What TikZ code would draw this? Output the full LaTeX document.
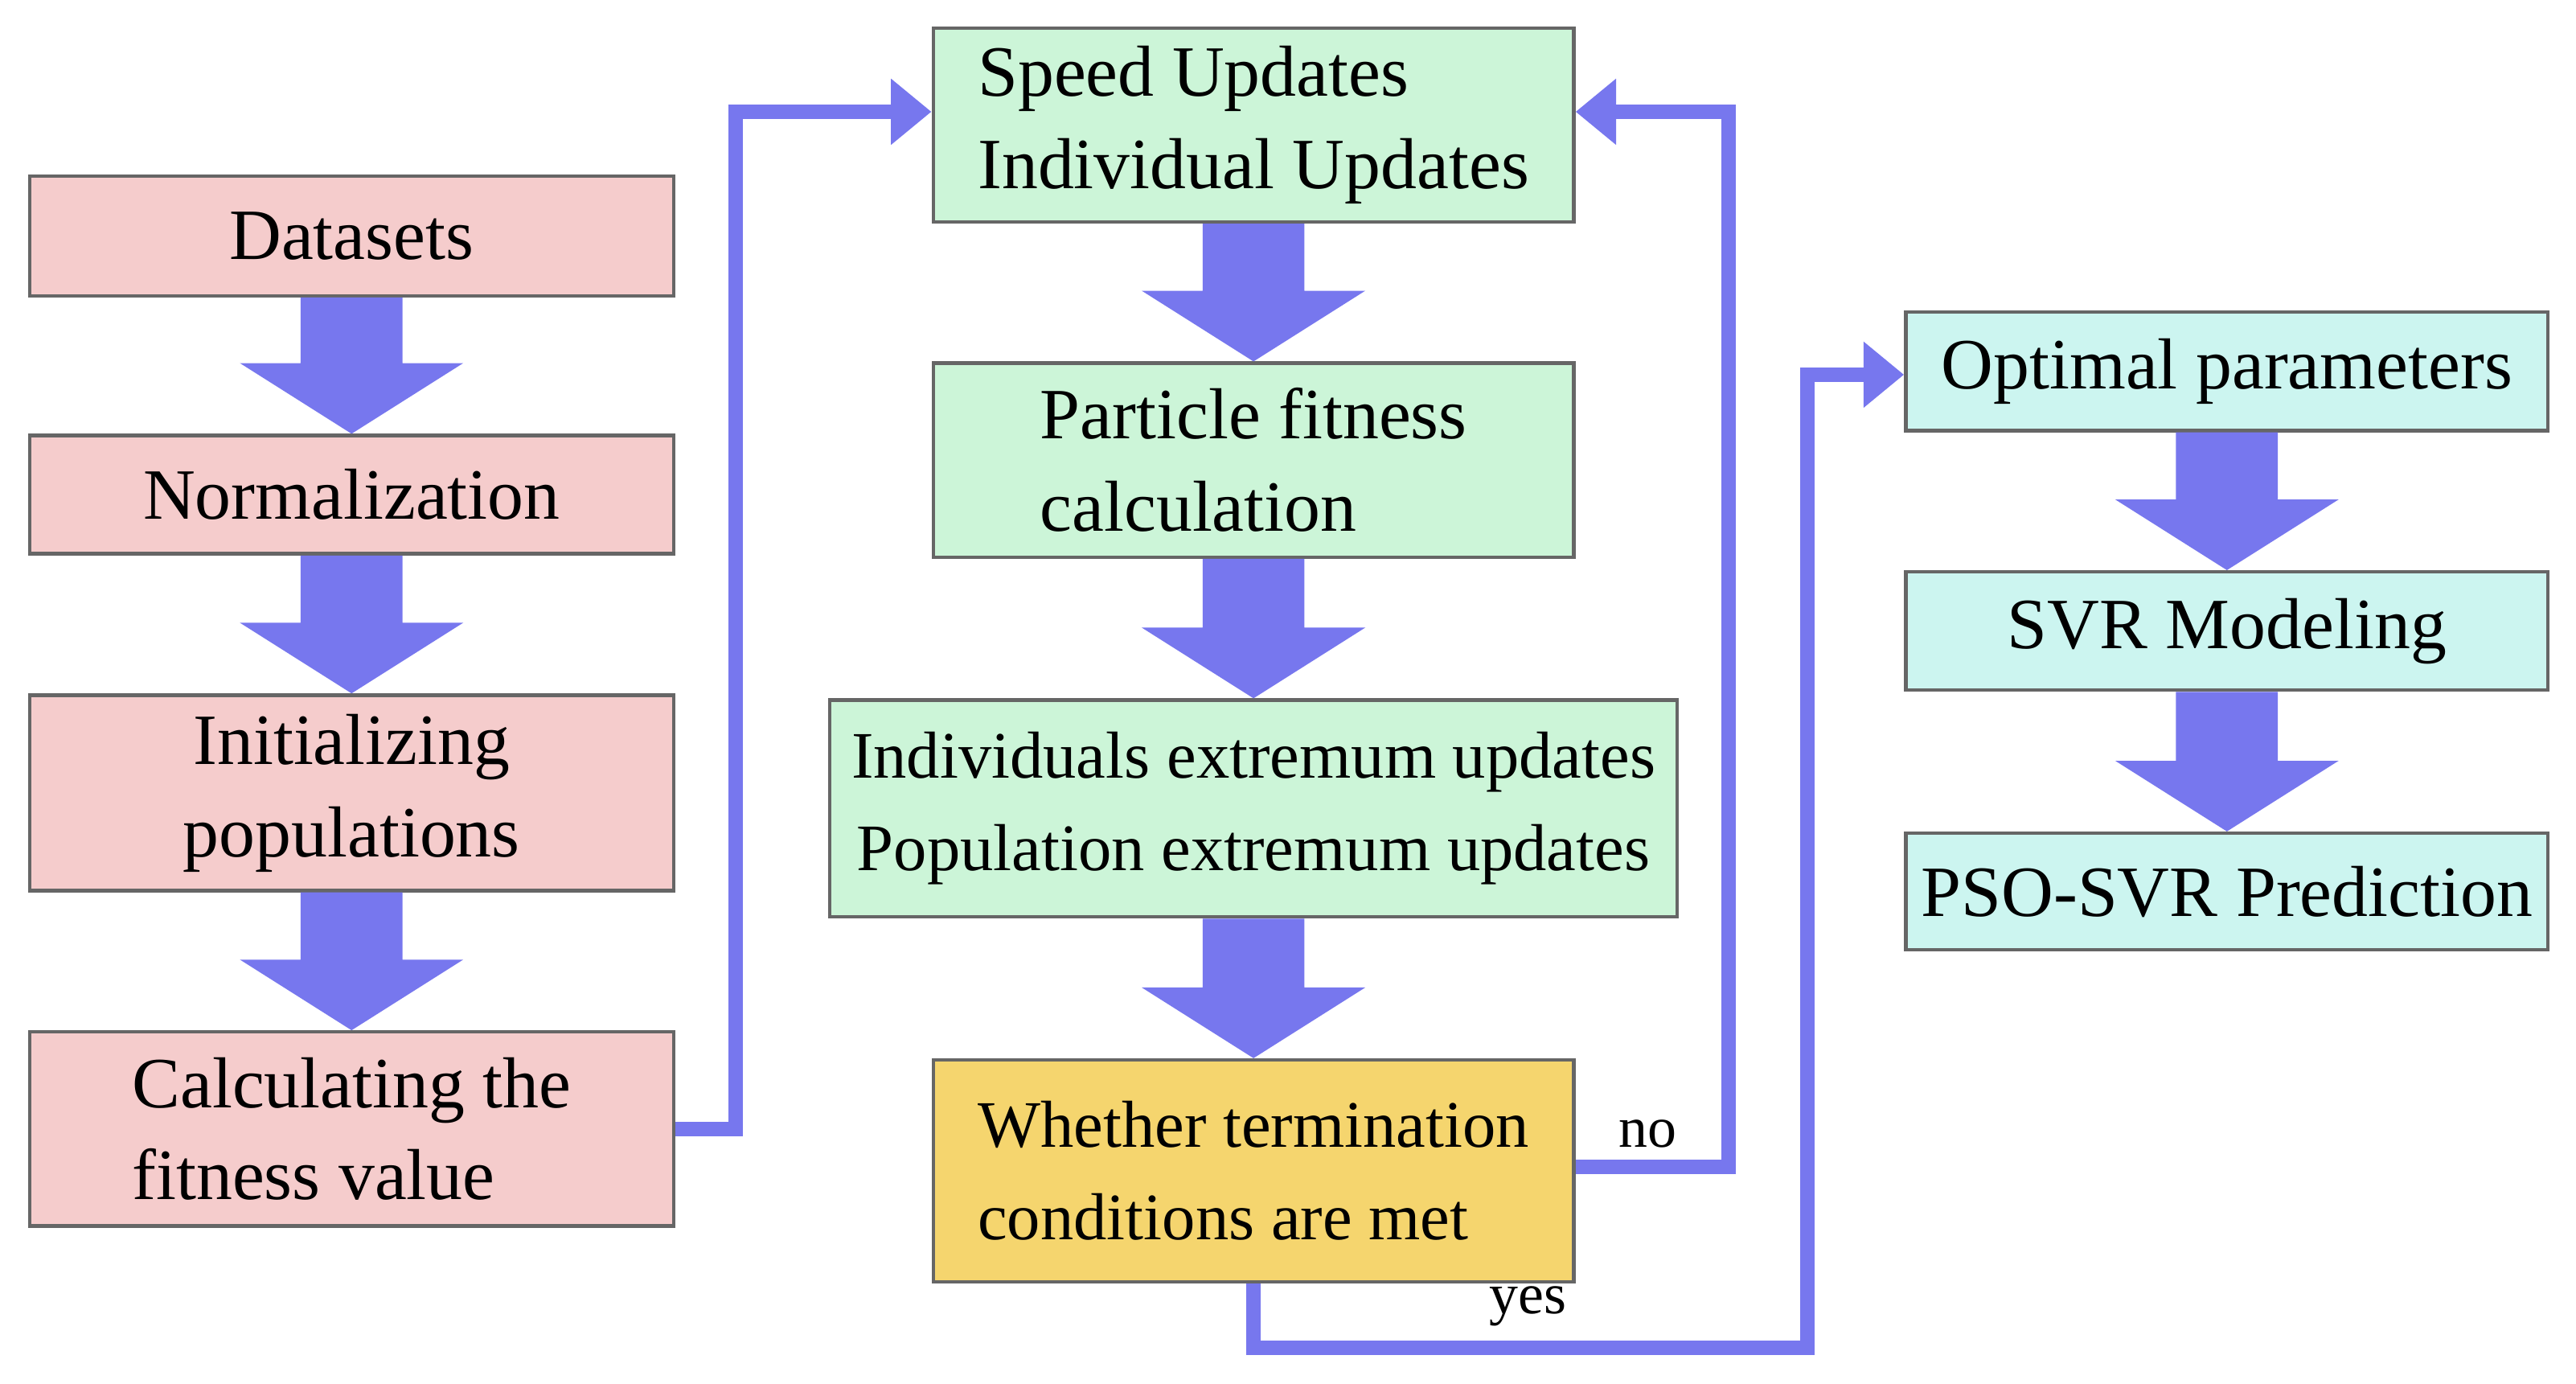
\documentclass[tikz,border=0pt]{standalone}
\usepackage{fontspec}
\setmainfont{Liberation Serif}
\usetikzlibrary{calc,arrows.meta}
\definecolor{pinkf}{HTML}{F5CCCC}
\definecolor{greenf}{HTML}{CCF5D8}
\definecolor{yellowf}{HTML}{F5D56E}
\definecolor{cyanf}{HTML}{CCF5F0}
\definecolor{arrblue}{HTML}{7777EE}
\newcommand\blockarrow[2]{%
  \fill[arrblue] ($(#1.south)+(-0.31,0)$) -- ($(#1.south)+(0.31,0)$) -- ($(#2.north)+(0.31,0.43)$) -- ($(#2.north)+(0.68,0.43)$) -- (#2.north) -- ($(#2.north)+(-0.68,0.43)$) -- ($(#2.north)+(-0.31,0.43)$) -- cycle;}
\tikzset{
  box/.style={draw=gray!80!black, line width=0.6pt, inner sep=2pt, font=\fontsize{12.5}{16}\selectfont, align=center, minimum width=3.92cm},
  pinkbox/.style={box, fill=pinkf},
  greenbox/.style={box, fill=greenf, minimum width=3.9cm},
  cyanbox/.style={box, fill=cyanf, minimum width=3.91cm},
  link/.style={draw=arrblue, line width=2.5pt, -{Triangle[length=7pt,width=11pt]}},
  lbl/.style={font=\fontsize{10}{12}\selectfont}
}
\begin{document}
\begin{tikzpicture}
\useasboundingbox (0,0) rectangle (15.68,-8.42);
\node[pinkbox, minimum height=0.73cm] (ds) at (2.14,-1.435) {Datasets};
\node[pinkbox, minimum height=0.72cm] (no) at (2.14,-3.01) {Normalization};
\node[pinkbox, minimum height=1.19cm] (ip) at (2.14,-4.825) {Initializing\\populations};
\node[pinkbox, minimum height=1.18cm, align=left] (cf) at (2.14,-6.87) {Calculating the\\fitness value};
\node[greenbox, minimum height=1.18cm, align=left] (su) at (7.63,-0.76) {Speed Updates\\Individual Updates};
\node[greenbox, minimum height=1.18cm, align=left] (pf) at (7.63,-2.80) {Particle fitness\\calculation};
\node[greenbox, minimum width=5.16cm, minimum height=1.32cm, font=\fontsize{11.5}{16}\selectfont] (ie) at (7.63,-4.92) {Individuals extremum updates\\Population extremum updates};
\node[greenbox, fill=yellowf, minimum height=1.35cm, align=left, font=\fontsize{11.5}{16}\selectfont] (wt) at (7.63,-7.125) {Whether termination\\conditions are met};
\node[cyanbox, minimum height=0.72cm] (op) at (13.555,-2.26) {Optimal parameters};
\node[cyanbox, minimum height=0.72cm] (sv) at (13.555,-3.84) {SVR Modeling};
\node[cyanbox, minimum height=0.71cm] (ps) at (13.555,-5.425) {PSO-SVR Prediction};
\blockarrow{ds}{no}
\blockarrow{no}{ip}
\blockarrow{ip}{cf}
\blockarrow{su}{pf}
\blockarrow{pf}{ie}
\blockarrow{ie}{wt}
\blockarrow{op}{sv}
\blockarrow{sv}{ps}
\draw[link] (cf.east) -- (4.48,-6.87) -- (4.48,-0.68) -- (su.west |- 0,-0.68);
\draw[link] (wt.east |- 0,-7.10) -- (10.52,-7.10) -- (10.52,-0.68) -- (su.east |- 0,-0.68);
\draw[link] (wt.south) -- (7.63,-8.20) -- (11.00,-8.20) -- (11.00,-2.28) -- (op.west |- 0,-2.28);
\node[lbl] (nolbl) at (10.03,-6.90) {no};
\node[lbl] (yeslbl) at (9.30,-7.95) {yes};
\end{tikzpicture}
\end{document}
